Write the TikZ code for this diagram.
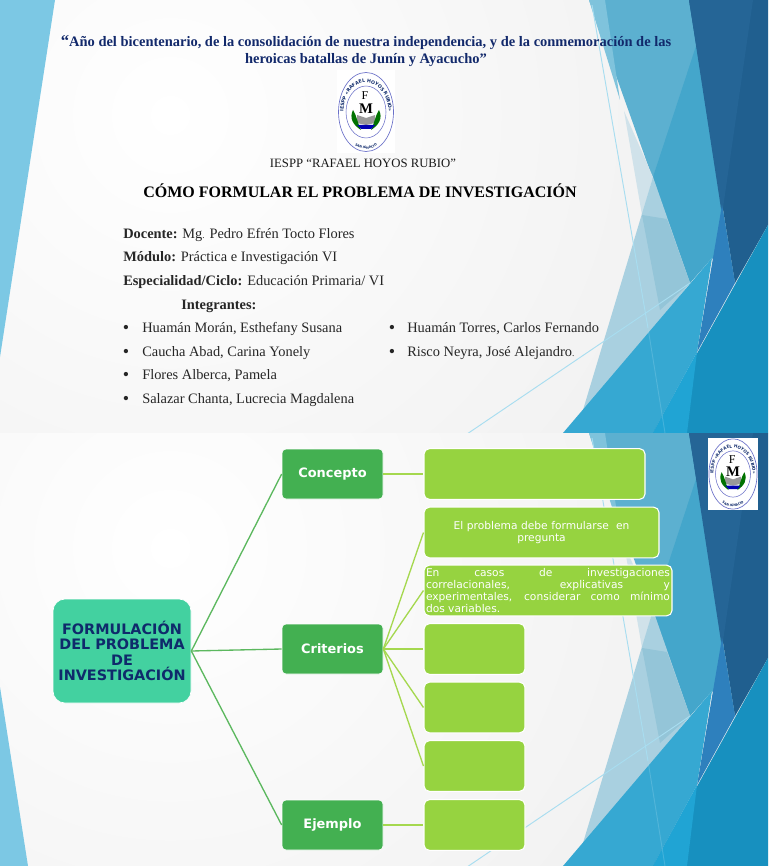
\documentclass[tikz,border=0pt]{standalone}
\usepackage{fontspec}
\setmainfont{Liberation Serif}
\setsansfont{DejaVu Sans}
\usetikzlibrary{decorations.text,shapes.geometric}
\definecolor{SlideGray}{HTML}{ECECEC}
\definecolor{SlideSky}{HTML}{7CC8E4}
\definecolor{SlideStrip}{HTML}{7FC3DC}
\definecolor{SlideLight}{HTML}{5CB0D0}
\definecolor{SlideMid}{HTML}{44A6CB}
\definecolor{SlidePale}{HTML}{A9D0E0}
\definecolor{SlidePaler}{HTML}{D0E2EA}
\definecolor{SlidePaleDeep}{HTML}{94C5D8}
\definecolor{SlideDark}{HTML}{205F8F}
\definecolor{SlideDarkTwo}{HTML}{256596}
\definecolor{SlideRoyal}{HTML}{2E80BD}
\definecolor{SlideWave}{HTML}{36A8D2}
\definecolor{SlideBright}{HTML}{1790BF}
\definecolor{SlideBrightTwo}{HTML}{20A4D4}
\definecolor{SlideLine}{HTML}{A8DDF0}
\definecolor{TitleNavy}{HTML}{12296B}
\definecolor{RootTeal}{HTML}{43D1A0}
\definecolor{RootNavy}{HTML}{0F2A6B}
\definecolor{BranchGreen}{HTML}{43B051}
\definecolor{LeafGreen}{HTML}{96D340}
\definecolor{LinkGreen}{HTML}{5CB85F}
\definecolor{LinkLeaf}{HTML}{A5D84F}
\definecolor{LogoBlue}{HTML}{6A70C8}
\tikzset{
  bodytext/.style={anchor=base west,inner sep=0pt,text=black!85,font=\fontsize{10.8}{13}\selectfont},
  dottext/.style={anchor=base west,inner sep=0pt,yshift=-1pt,text=black!85,font=\fontsize{13.5}{13}\selectfont},
  rootbox/.style={draw=white,line width=.5pt,fill=RootTeal,rounded corners=9pt,inner sep=0pt,minimum width=103.5pt,minimum height=78pt,align=center,text=RootNavy,font=\sffamily\bfseries\fontsize{10.8}{11.6}\selectfont},
  branchbox/.style={draw=white,line width=.5pt,fill=BranchGreen,rounded corners=3pt,inner sep=0pt,minimum width=75.75pt,minimum height=37.5pt,text=white,font=\sffamily\bfseries\fontsize{9.7}{11}\selectfont},
  leafbox/.style={draw=white,line width=.8pt,fill=LeafGreen,rounded corners=4pt,inner sep=0pt,minimum height=38pt,text=white,font=\sffamily\fontsize{8}{9.1}\selectfont},
  stemlink/.style={LinkGreen,line width=1pt},
  leaflink/.style={LinkLeaf,line width=1pt}
}
\newcommand{\drawslide}[1]{
\begin{scope}[shift={(0,#1)}]
\clip (0,0) rectangle (768,433);
\fill[SlideGray] (0,0) rectangle (768,433);
\shade[inner color=white,outer color=SlideGray] (170,115) circle (740);
\fill[SlideLight] (589,0)--(700,0)--(700,100)--(690,283)--cycle;
\fill[SlideStrip] (589,0)--(605,0)--(620,100)--cycle;
\fill[SlideMid] (697,43)--(653,177)--(690,283)--(712,258)--(735,283)--(689,0)--cycle;
\fill[SlidePaler] (624,111)--(653,177)--(642,215)--cycle;
\fill[SlidePale] (653,177)--(580,420)--(690,283)--cycle;
\fill[SlidePaleDeep] (642,215)--(667,219)--(690,283)--(660,310)--cycle;
\fill[SlideDark] (689,0)--(768,0)--(768,225)--(735,283)--cycle;
\fill[SlideDarkTwo] (689,0)--(753,0)--(722,215)--cycle;
\fill[SlideRoyal] (722,205)--(735,283)--(697,352)--cycle;
\draw[SlideLine,line width=.7pt] (592,5)--(648,328);
\draw[SlideLine,line width=.7pt] (467,434)--(690,283);
\fill[SlideWave] (563,433)--(712,258)--(697,352)--(653,433)--cycle;
\fill[SlideBright] (768,225)--(653,433)--(768,433)--cycle;
\fill[SlideBrightTwo] (697,352)--(653,433)--(687,433)--cycle;
\draw[SlideLine,opacity=.25,line width=.7pt] (648,328)--(665,433);
\end{scope}}
\newcommand{\drawlogo}[6]{
\fill[white] (#1) rectangle (#2);
\begin{scope}[shift={(#3)},xscale=#4,yscale=-#5]
\draw[LogoBlue,line width=.5pt] (0,0) ellipse [x radius=27.5,y radius=39.5];
\draw[LogoBlue,line width=.4pt] (0,0) ellipse [x radius=20,y radius=26];
\path[decorate,decoration={text along path,text align=center,text={|\sffamily\bfseries\fontsize{#6}{4}\selectfont\color{RootNavy}|IESPP «RAFAEL HOYOS RUBIO»}}] (195:22.5 and 29.5) arc [start angle=195,end angle=-15,x radius=22.5,y radius=29.5];
\path[decorate,decoration={text along path,text align=center,text={|\sffamily\bfseries\fontsize{2.4}{3}\selectfont\color{RootNavy}|SAN IGNACIO}}] (238:25.5 and 37) arc [start angle=238,end angle=302,x radius=25.5,y radius=37];
\fill[black!40] (-9,-3)--(0,-6)--(9,-3)--(9,-11)--(0,-13)--(-9,-11)--cycle;
\fill[green!45!black] (-13,2) .. controls (-17,-6) and (-13,-13) .. (-5,-18) .. controls (-9,-10) and (-9,-4) .. (-13,2);
\fill[green!45!black] (13,2) .. controls (17,-6) and (13,-13) .. (5,-18) .. controls (9,-10) and (9,-4) .. (13,2);
\fill[blue!70!black] (-9,-13)--(9,-13)--(5,-17)--(-5,-17)--cycle;
\node[inner sep=0pt,text=black,font=\fontsize{9}{9}\selectfont] (logo#3F) at (-1,16) {F};
\node[inner sep=0pt,text=black,font=\bfseries\fontsize{11}{11}\selectfont] (logo#3M) at (0,3) {M};
\end{scope}}
\begin{document}
\begin{tikzpicture}[x=.75pt,y=-.75pt]
\useasboundingbox (0,0) rectangle (768,866);
\drawslide{0}
\drawslide{433}
\fill[SlideSky] (0,0)--(55,0)--(0,357)--cycle;
\fill[SlideSky] (0,687)--(28,866)--(0,866)--cycle;
\node[align=center,text=TitleNavy,inner sep=0pt,font=\bfseries\fontsize{10.85}{13.4}\selectfont] (motto) at (366,51) {{\fontsize{12.5}{13}\selectfont“}Año del bicentenario, de la consolidación de nuestra independencia, y de la conmemoración de las\\heroicas batallas de Junín y Ayacucho”};
\drawlogo{337,70}{395,153}{366,112}{1}{1}{3.5}
\node[inner sep=0pt,text=black!90,font=\fontsize{9.55}{12}\selectfont] (school) at (363,163) {IESPP “RAFAEL HOYOS RUBIO”};
\node[inner sep=0pt,text=black,font=\bfseries\fontsize{12}{14}\selectfont] (heading) at (360,191) {CÓMO FORMULAR EL PROBLEMA DE INVESTIGACIÓN};
\node[bodytext] (docente) at (123,238.5) {\textbf{Docente:} Mg{\scriptsize .} Pedro Efrén Tocto Flores};
\node[bodytext] (modulo) at (123,261.5) {\textbf{Módulo:} Práctica e Investigación VI};
\node[bodytext] (ciclo) at (123,285.5) {\textbf{Especialidad/Ciclo:} Educación Primaria/ VI};
\node[bodytext] (integrantes) at (181,309) {\textbf{Integrantes:}};
\foreach \y/\nom in {332/{Huamán Morán, Esthefany Susana},356/{Caucha Abad, Carina Yonely},379/{Flores Alberca, Pamela},403/{Salazar Chanta, Lucrecia Magdalena}}{\node[dottext] (bul\y) at (122.5,\y) {•};\node[bodytext] (nom\y) at (142,\y) {\nom};}
\node[dottext] (bulr1) at (388.5,332) {•};\node[bodytext] (nomr1) at (407,332) {Huamán Torres, Carlos Fernando};
\node[dottext] (bulr2) at (388.5,356) {•};\node[bodytext] (nomr2) at (407,356) {Risco Neyra, José Alejandro{\scriptsize .}};
\drawlogo{708,438}{758,510}{733,474}{.875}{.89}{3.1}
\node[rootbox] (root) at (122,651) {FORMULACIÓN\\DEL PROBLEMA\\DE\\INVESTIGACIÓN};
\node[branchbox] (concepto) at (332.5,474) {Concepto};
\node[branchbox] (criterios) at (332.5,649) {Criterios};
\node[branchbox] (ejemplo) at (332.5,825) {Ejemplo};
\node[leafbox,minimum width=165.75pt] (conceptoleaf) at (534.5,474) {};
\node[leafbox,minimum width=176.25pt,text width=170pt,align=center] (pregunta) at (541.5,532.5) {El problema debe formularse \ en\\pregunta};
\node[leafbox,minimum width=186pt,text width=183pt,align=justify] (variables) at (548,590.5) {En casos de investigaciones\linebreak correlacionales, explicativas y\linebreak experimentales, considerar como mínimo\linebreak dos variables.};
\foreach \y/\nam in {649/one,707.5/two,766/three}{\node[leafbox,minimum width=75.75pt] (leaf\nam) at (474.5,\y) {};}
\node[leafbox,minimum width=75.75pt] (ejemploleaf) at (474.5,825) {};
\draw[stemlink] (root.east)--(concepto.west);
\draw[stemlink] (root.east)--(criterios.west);
\draw[stemlink] (root.east)--(ejemplo.west);
\draw[leaflink] (concepto.east)--(conceptoleaf.west);
\foreach \t in {pregunta,variables,leafone,leaftwo,leafthree}{\draw[leaflink] (criterios.east)--(\t.west);}
\draw[leaflink,line width=1.5pt] (ejemplo.east)--(ejemploleaf.west);
\end{tikzpicture}
\end{document}
